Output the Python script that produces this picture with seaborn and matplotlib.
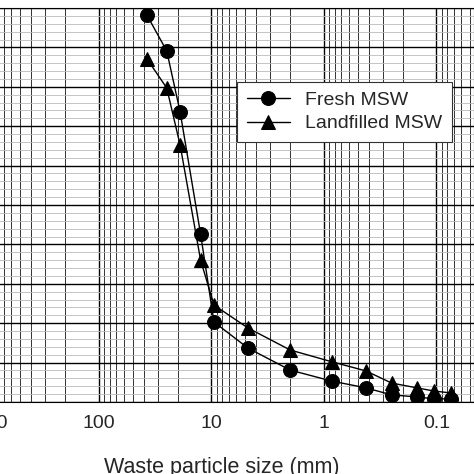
import matplotlib
matplotlib.use("Agg")
import matplotlib.pyplot as plt
import seaborn as sns
import numpy as np
import pandas as pd
from matplotlib.ticker import FixedLocator, NullFormatter

sizes = [37.5, 25, 19, 12.5, 9.5, 4.75, 2.0, 0.85, 0.425, 0.25, 0.15, 0.106, 0.075]
fresh = [98.2, 89.1, 73.6, 42.6, 20.3, 13.7, 8.1, 5.3, 3.6, 1.8, 1.3, 0.8, 0.8]
landfilled = [87.1, 79.7, 65.2, 36.0, 24.6, 18.8, 13.2, 10.2, 7.9, 4.8, 3.6, 2.8, 2.3]
xticks = [1000, 100, 10, 1, 0.1]
xticklabels = ["1000", "100", "10", "1", "0.1"]

sns.set_style("white")
plt.rcParams['font.family'] = ['Liberation Sans', 'DejaVu Sans']

W = 474
fig = plt.figure(figsize=(4.74, 4.74), dpi=100)
Lpx, Rpx, Bpx, Tpx = -30, 474, 402, 8
ax = fig.add_axes([Lpx / W, 1 - Bpx / W, (Rpx - Lpx) / W, (Bpx - Tpx) / W])

def val(p):
    return 10 ** (2 - (p - 99) / 112.5)

ax.set_xscale("log")
ax.set_xlim(val(Lpx), val(Rpx))
ax.set_ylim(0, 100)

ax.set_xticks(xticks)
ax.set_xticklabels(xticklabels, fontsize=14)
minors = [m * 10.0 ** e for e in range(-2, 4) for m in range(2, 10)]
ax.xaxis.set_minor_locator(FixedLocator(minors))
ax.xaxis.set_minor_formatter(NullFormatter())
ax.set_yticks(np.arange(0, 101, 10))
ax.set_yticklabels([])
ax.yaxis.set_minor_locator(FixedLocator(np.arange(0, 101, 2)))
ax.tick_params(axis="both", which="both", length=0)
ax.tick_params(axis="x", pad=9)

ax.grid(True, which="major", color="black", lw=1.0)
ax.grid(True, which="minor", axis="x", color="#333333", lw=0.7)
ax.grid(True, which="minor", axis="y", color="#bbbbbb", lw=0.6)
ax.set_axisbelow(True)
for s in ax.spines.values():
    s.set_color("black")

df = pd.DataFrame({"size": sizes * 2, "pct": fresh + landfilled,
                   "series": ["Fresh MSW"] * len(sizes) + ["Landfilled MSW"] * len(sizes)})
sns.lineplot(data=df, x="size", y="pct", hue="series", style="series",
             markers={"Fresh MSW": "o", "Landfilled MSW": "^"}, dashes=False,
             palette={"Fresh MSW": "black", "Landfilled MSW": "black"},
             markersize=10, lw=1, markeredgecolor="black", ax=ax, sort=False)

leg = ax.legend(loc="upper right", bbox_to_anchor=(0.976, 0.838), fontsize=14,
                frameon=True, fancybox=False, edgecolor="#333333", framealpha=1,
                handlelength=2.2, borderpad=0.5, labelspacing=0.3)
leg.get_frame().set_linewidth(0.8)

ax.set_xlabel("Waste particle size (mm)", fontsize=15.5, labelpad=18)
ax.set_ylabel("")

fig.savefig("out.png", dpi=100)
